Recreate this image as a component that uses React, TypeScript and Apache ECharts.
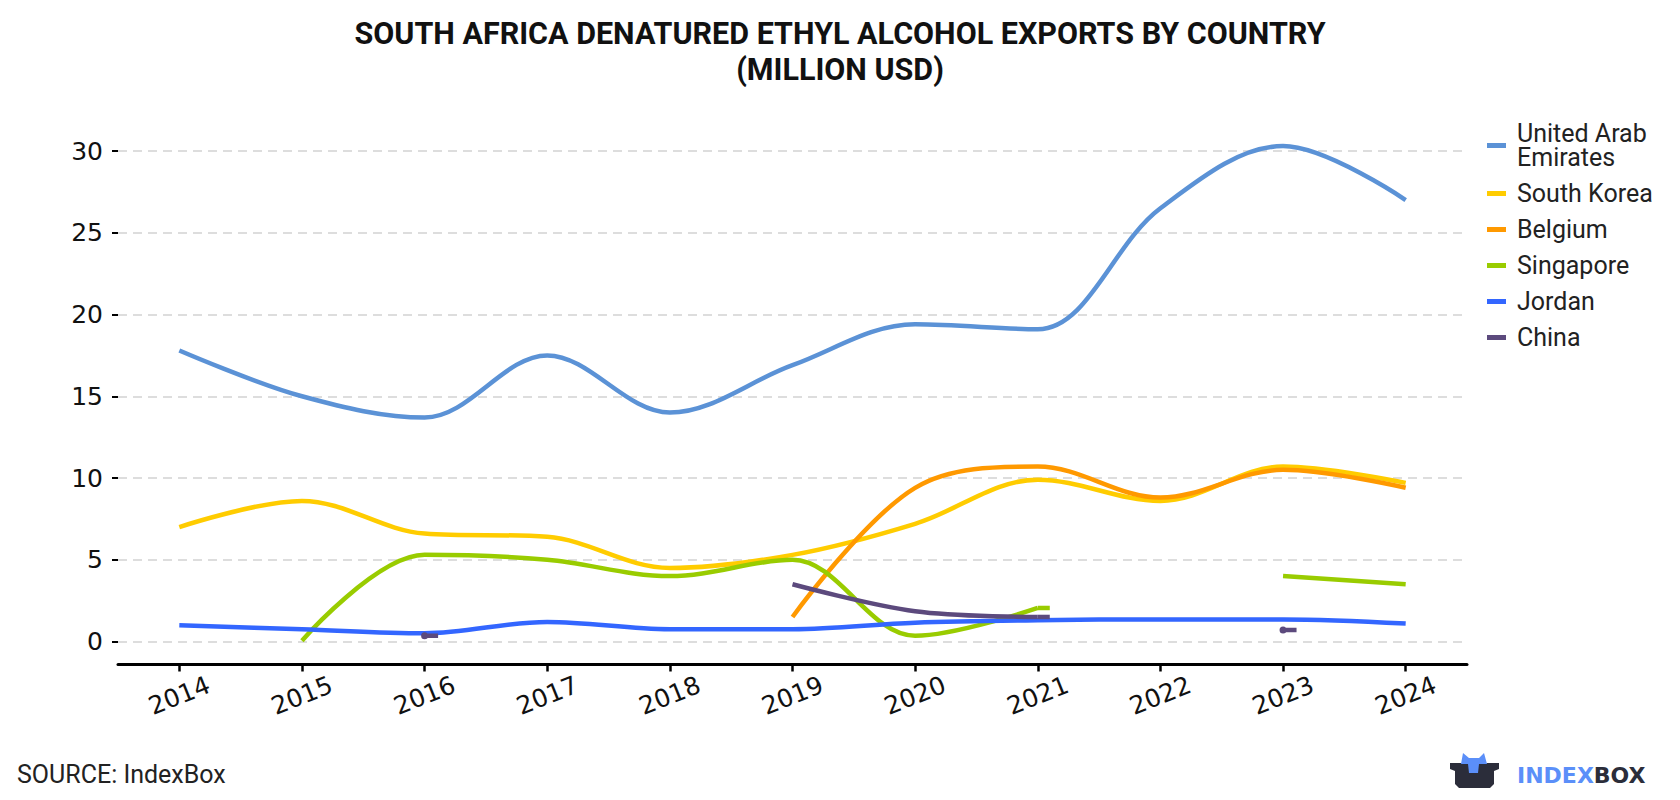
import React, { useEffect, useRef } from "react";
import * as echarts from "echarts";

const years = ["2014", "2015", "2016", "2017", "2018", "2019", "2020", "2021", "2022", "2023", "2024"];
const seriesNames = ["United Arab Emirates", "South Korea", "Belgium", "Singapore", "Jordan", "China"];
const uae = [17.8, 15.0, 13.7, 17.5, 14.0, 16.9, 19.4, 19.1, 26.5, 30.3, 27.0];
const southKorea = [7.0, 8.6, 6.6, 6.4, 4.5, 5.3, 7.2, 9.9, 8.6, 10.7, 9.7];
const belgium = [null, null, null, null, null, 1.5, 9.4, 10.7, 8.8, 10.5, 9.4];
const singapore = [null, 0.05, 5.3, 5.0, 4.0, 5.0, 0.35, 2.05, null, 4.0, 3.5];
const jordan = [1.0, 0.75, 0.5, 1.2, 0.75, 0.75, 1.15, 1.3, 1.35, 1.35, 1.1];
const china = [null, null, 0.35, null, null, 3.5, 1.85, 1.5, null, 0.7, null];
const colors = ["#5b92d6", "#ffcc00", "#ff9900", "#99cc00", "#3366ff", "#5c4a7d"];
const yTicks = { min: 0, max: 30, interval: 5 };

const DOT_STUB = "path://M3.5,0A3.5,3.5,0,1,1,3.5,7A3.5,3.5,0,1,1,3.5,0ZM3.5,1.25H17V5.75H3.5Z";

function decorate(values: (number | null)[]) {
  const last = values.length - 1;
  return values.map((v, i) => {
    if (v == null) return null;
    const prev = i > 0 ? values[i - 1] : null;
    const next = i < last ? values[i + 1] : null;
    if (prev == null && next == null) {
      return { value: v, symbol: DOT_STUB, symbolSize: [17, 7], symbolOffset: [5, 0] };
    }
    if (prev != null && next == null && i < last) {
      return { value: v, symbol: "rect", symbolSize: [12, 4.5], symbolOffset: [6, 0] };
    }
    return v;
  });
}

export default function App() {
  const ref = useRef<HTMLDivElement>(null);
  useEffect(() => {
    if (!ref.current) return;
    const chart = echarts.init(ref.current, undefined, { renderer: "svg" });
    const allData = [uae, southKorea, belgium, singapore, jordan, china];
    const axisFont = "DejaVu Sans";
    const option: any = {
      animation: false,
      title: {
        text: "SOUTH AFRICA DENATURED ETHYL ALCOHOL EXPORTS BY COUNTRY\n(MILLION USD)",
        left: "center",
        top: 10,
        textStyle: { fontFamily: "Roboto", fontWeight: "bold", fontSize: 30.5, lineHeight: 36, color: "#111" },
      },
      legend: {
        orient: "vertical",
        left: 1482,
        top: 116,
        itemWidth: 19,
        itemHeight: 5,
        itemGap: 11,
        icon: "rect",
        data: seriesNames,
        formatter: (n: string) =>
          (n === "United Arab Emirates" ? ["United Arab", "Emirates"] : [n]).map((l) => `{t|${l}}`).join("\n"),
        textStyle: {
          fontFamily: "Roboto",
          fontSize: 25,
          lineHeight: 24,
          padding: [0, 0, 0, 6],
          rich: { t: { fontFamily: "Roboto", fontSize: 25, lineHeight: 24, color: "#222" } },
        },
      },
      grid: { left: 118, right: 213, top: 151, bottom: 158.5, containLabel: false },
      xAxis: {
        type: "category",
        data: years,
        boundaryGap: true,
        offset: 23,
        axisLine: { show: true, onZero: false, lineStyle: { color: "#000", width: 3 } },
        axisTick: { show: true, alignWithLabel: true, length: 7, lineStyle: { color: "#000", width: 2.5 } },
        axisLabel: {
          interval: 0,
          rotate: 22,
          align: "center",
          verticalAlign: "middle",
          margin: 31,
          fontFamily: axisFont,
          fontSize: 25,
          color: "#111",
        },
        splitLine: { show: false },
      },
      yAxis: {
        type: "value",
        min: yTicks.min,
        max: yTicks.max,
        interval: yTicks.interval,
        axisLine: { show: false },
        axisTick: { show: true, length: 6, lineStyle: { color: "#000", width: 2 } },
        axisLabel: { margin: 15, fontFamily: axisFont, fontSize: 25, color: "#111" },
        splitLine: { lineStyle: { type: [9, 6], color: "#dddddd", width: 2 } },
      },
      series: seriesNames.map((name, k) => ({
        name,
        type: "line",
        data: decorate(allData[k]),
        smooth: 0.35,
        symbol: "none",
        showSymbol: true,
        connectNulls: false,
        clip: false,
        color: colors[k],
        itemStyle: { color: colors[k] },
        lineStyle: { width: 4.5, color: colors[k] },
        emphasis: { disabled: true },
      })),
      graphic: [
        {
          type: "text",
          left: 17,
          top: 762,
          style: { text: "SOURCE: IndexBox", fontFamily: "Roboto", fontSize: 25, fill: "#222" },
        },
        {
          type: "polygon",
          shape: {
            points: [
              [1450, 763], [1499, 763], [1499, 769], [1494, 771], [1494, 784], [1490, 788],
              [1459, 788], [1455, 784], [1455, 771], [1450, 769],
            ],
          },
          style: { fill: "#2b2d3a" },
        },
        {
          type: "polygon",
          shape: {
            points: [
              [1461, 764], [1463, 753], [1469, 758], [1479, 758], [1484, 753], [1487, 764],
              [1479, 764], [1478, 773], [1469, 773], [1468, 764],
            ],
          },
          style: { fill: "#5b8ff9" },
        },
        {
          type: "text",
          x: 1517,
          y: 775,
          style: {
            text: "{a|INDEX}{b|BOX}",
            verticalAlign: "middle",
            rich: {
              a: { fontFamily: "DejaVu Sans", fontWeight: "bold", fontSize: 22, fill: "#5b8ff9", color: "#5b8ff9" },
              b: { fontFamily: "DejaVu Sans", fontWeight: "bold", fontSize: 22, fill: "#2b2d3a", color: "#2b2d3a" },
            },
          },
        },
      ],
    };
    chart.setOption(option);
    return () => chart.dispose();
  }, []);
  return (
    <div
      ref={ref}
      style={{ position: "absolute", left: 0, top: 0, width: 1680, height: 800, background: "#fff" }}
    />
  );
}
